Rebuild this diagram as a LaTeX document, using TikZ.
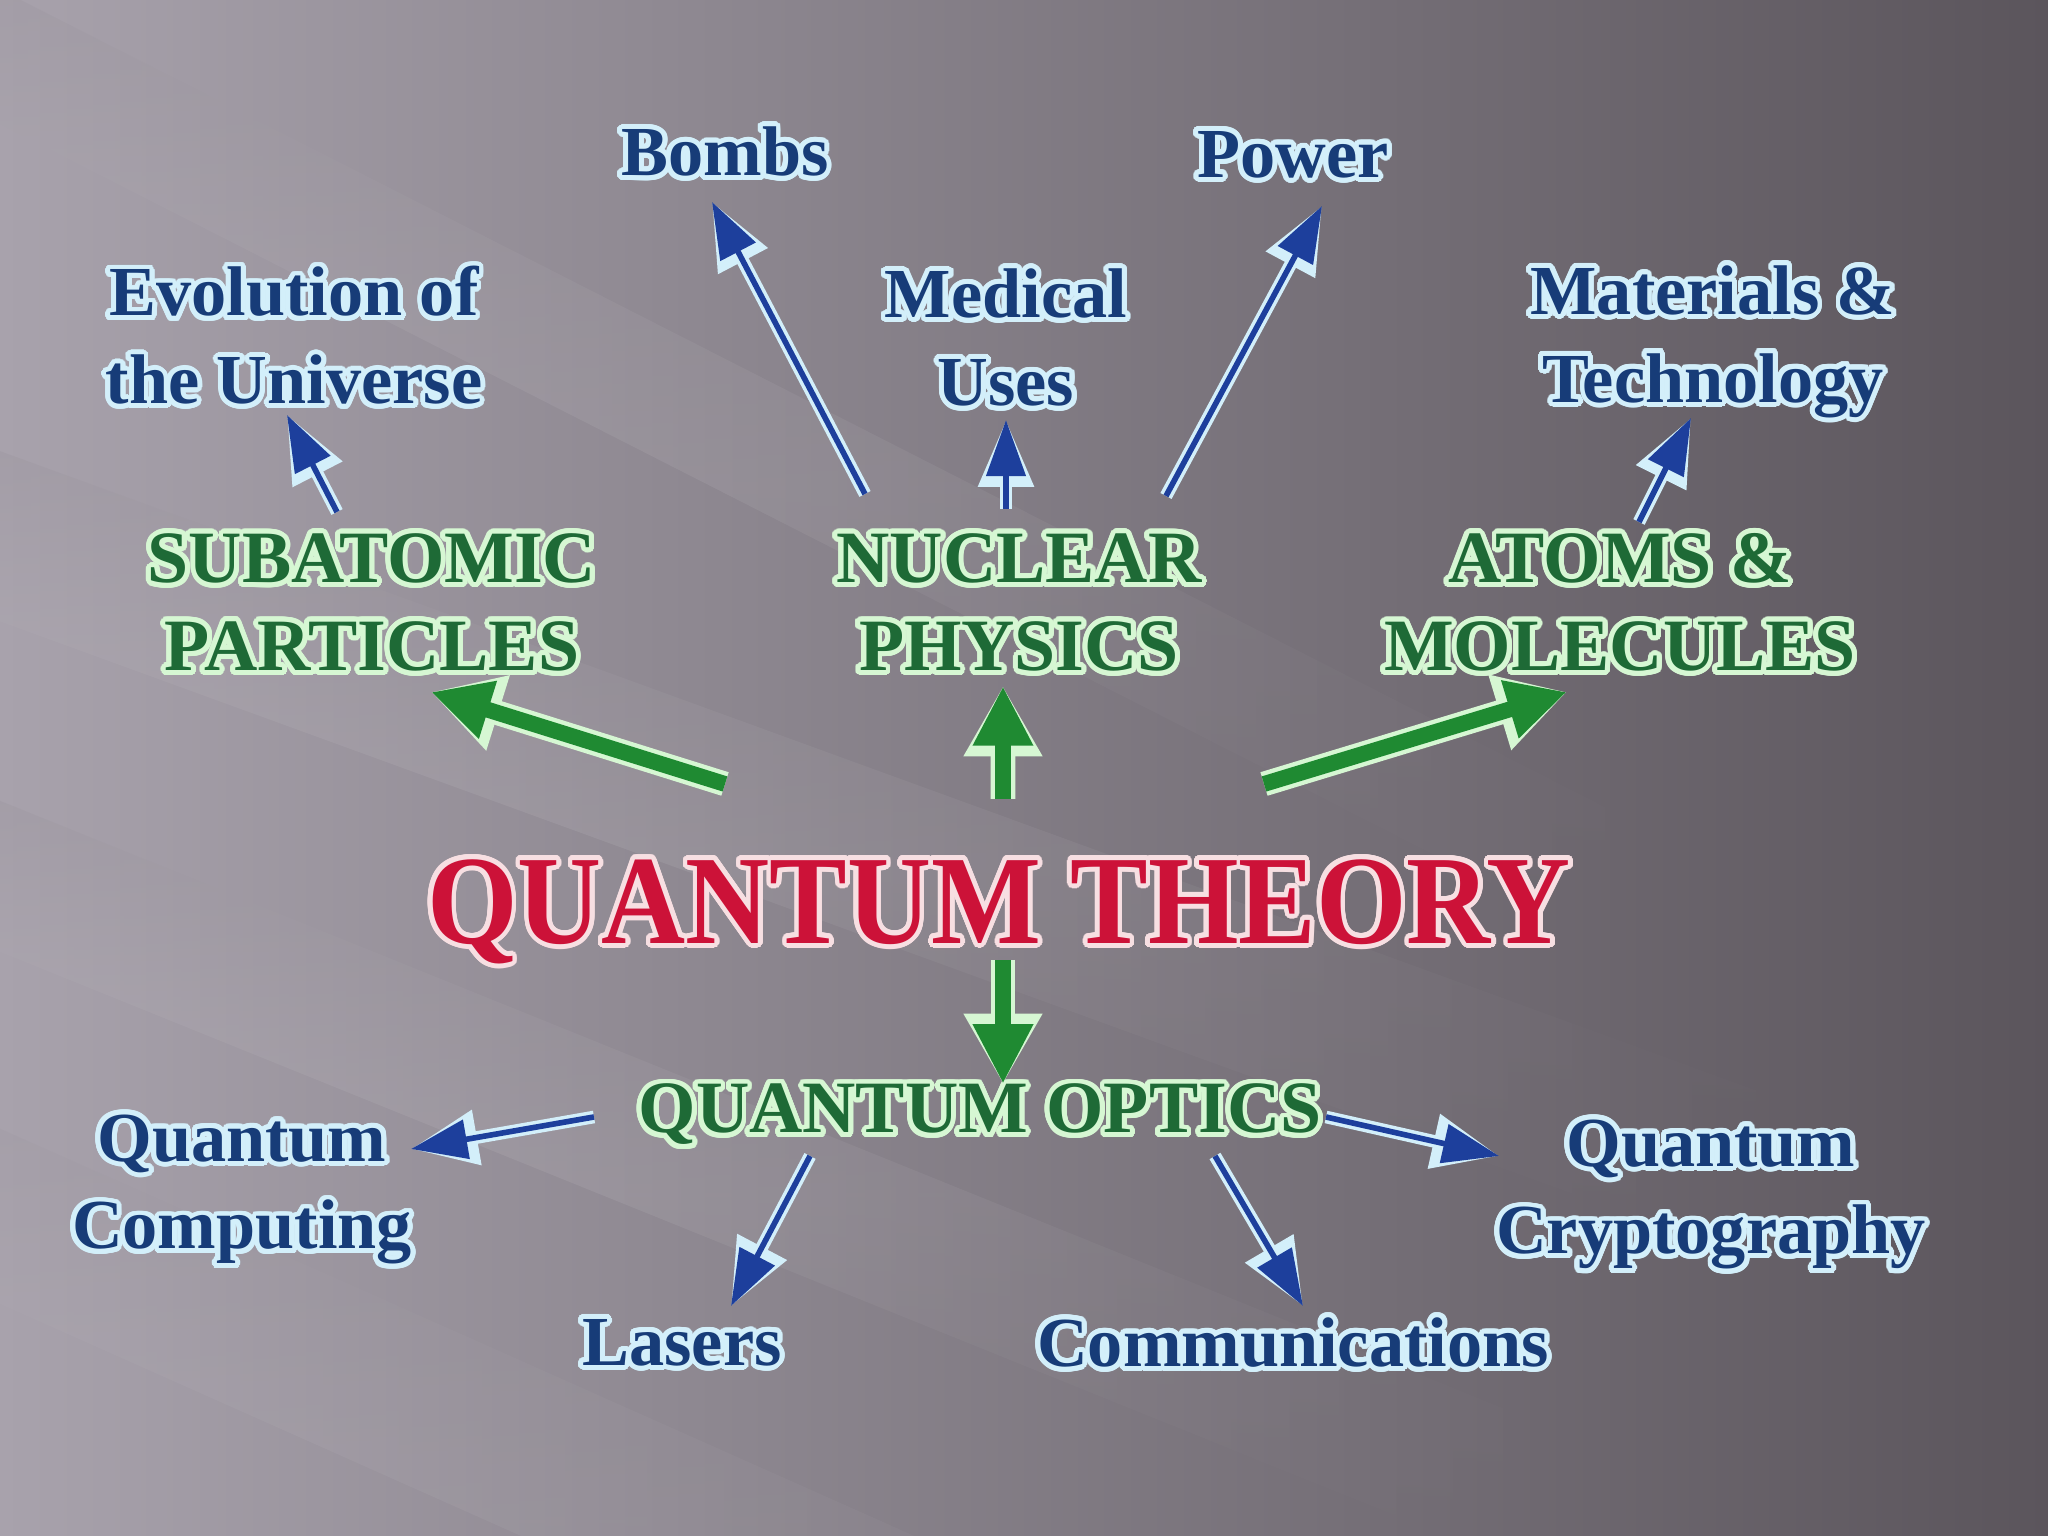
\documentclass[tikz,border=0pt]{standalone}
\usepackage{fontspec}
\setmainfont{Liberation Serif}
\usepackage[copies]{contour}
\usepackage{tikz}
\usepackage{xcolor}
\usetikzlibrary{arrows.meta, fadings}
\definecolor{bgleft}{HTML}{A8A2AC}
\definecolor{bgmid}{HTML}{7E7880}
\definecolor{bgright}{HTML}{5B555C}
\definecolor{bluefg}{HTML}{173C78}
\definecolor{bluehalo}{HTML}{D3EFFA}
\definecolor{greenfg}{HTML}{1E6A36}
\definecolor{greenhalo}{HTML}{D6F7D3}
\definecolor{redfg}{HTML}{CC1238}
\definecolor{redhalo}{HTML}{F7DFE2}
\definecolor{bluearr}{HTML}{1D3F9C}
\definecolor{greenarr}{HTML}{1F8A32}
\contourlength{1.4pt}
\contournumber{32}
\newcommand{\btxt}[1]{\textcolor{bluefg}{\contour{bluehalo}{#1}}}
\newcommand{\gtxt}[1]{\textcolor{greenfg}{\contour{greenhalo}{#1}}}
\newcommand{\rtxt}[1]{\textcolor{redfg}{\contour{redhalo}{#1}}}
\tikzstyle{app} = [font=\fontsize{20}{25}\selectfont\bfseries, align=center, inner sep=0pt]
\tikzstyle{field} = [font=\fontsize{21}{25}\selectfont\bfseries, align=center, inner sep=0pt]
\tikzstyle{maintitle} = [font=\fontsize{36}{40}\selectfont\bfseries, inner sep=0pt]
\tikzstyle{bluearrow} = [draw=bluearr, line width=1.6pt, -{Triangle[length=16pt,width=11pt]}, preaction={draw=bluehalo, line width=3.6pt, -{Triangle[length=19pt,width=15pt]}}]
\tikzstyle{greenarrow} = [draw=greenarr, line width=4.5pt, -{Triangle[length=17pt,width=16pt]}, preaction={draw=greenhalo, line width=7pt, -{Triangle[length=20pt,width=21pt]}}]
\tikzstyle{streak} = [top color=bgmid, bottom color=bgmid, middle color=white, opacity=0.13, path fading=east]

\begin{document}
\begin{tikzpicture}

            % Background
            \useasboundingbox (0,0) rectangle (20.48,15.36);
            \shade[left color=bgleft, middle color=bgmid, right color=bgright] (0,0) rectangle (20.48,15.36);
            \begin{scope}
                \clip (0,0) rectangle (20.48,15.36);
                \shade[streak, rotate around={-27:(0,14.8)}] (-1,14.2) rectangle (20,15.4);
                \shade[streak, rotate around={-20:(0,10.0)}] (-1,9.2) rectangle (20,10.8);
                \shade[streak, rotate around={-22:(0,6.6)}] (-1,5.9) rectangle (18,7.3);
                \shade[streak, opacity=0.08, rotate around={-24:(0,3.2)}] (-1,2.4) rectangle (16,4.0);
            \end{scope}

            % Nodes
            \node (qt) [maintitle] at (9.99,6.22) {\scalebox{0.92}[1]{\rtxt{QUANTUM THEORY}}};

            \node (sub) [field] at (3.72,9.31) {\gtxt{SUBATOMIC}\\\gtxt{PARTICLES}};
            \node (nuc) [field] at (10.19,9.31) {\gtxt{NUCLEAR}\\\gtxt{PHYSICS}};
            \node (atoms) [field] at (16.20,9.31) {\gtxt{ATOMS \&}\\\gtxt{MOLECULES}};
            \node (optics) [field] at (9.80,4.19) {\gtxt{QUANTUM OPTICS}};

            \node (evol) [app] at (2.94,11.98) {\btxt{Evolution of}\\\btxt{the Universe}};
            \node (bombs) [app] at (7.25,13.82) {\btxt{Bombs}};
            \node (medical) [app] at (10.06,11.96) {\btxt{Medical}\\\btxt{Uses}};
            \node (power) [app] at (12.93,13.79) {\btxt{Power}};
            \node (materials) [app] at (17.13,11.92) {\btxt{Materials \&}\\\btxt{Technology}};

            \node (computing) [app] at (2.42,3.44) {\btxt{Quantum}\\\btxt{Computing}};
            \node (lasers) [app] at (6.82,1.91) {\btxt{Lasers}};
            \node (comms) [app] at (12.93,1.91) {\btxt{Communications}};
            \node (crypto) [app] at (17.11,3.39) {\btxt{Quantum}\\\btxt{Cryptography}};

            % Arrows
            \draw [greenarrow] ([shift={(-2.74,1.30)}]qt.center) -- ([shift={(0.59,-0.87)}]sub.center);
            \draw [greenarrow] ([shift={(0.04,1.15)}]qt.center) -- ([shift={(-0.16,-0.81)}]nuc.center);
            \draw [greenarrow] ([shift={(2.65,1.30)}]qt.center) -- ([shift={(-0.53,-0.87)}]atoms.center);
            \draw [greenarrow] ([shift={(0.04,-0.46)}]qt.center) -- ([shift={(0.23,0.33)}]optics.center);

            \draw [bluearrow] ([shift={(-0.35,0.93)}]sub.center) -- ([shift={(-0.07,-0.77)}]evol.center);
            \draw [bluearrow] ([shift={(-1.54,1.11)}]nuc.center) -- ([shift={(-0.13,-0.48)}]bombs.center);
            \draw [bluearrow] ([shift={(-0.13,0.96)}]nuc.center) -- ([shift={(0,-0.80)}]medical.center);
            \draw [bluearrow] ([shift={(1.47,1.09)}]nuc.center) -- ([shift={(0.29,-0.49)}]power.center);
            \draw [bluearrow] ([shift={(0.19,0.83)}]atoms.center) -- ([shift={(-0.22,-0.74)}]materials.center);

            \draw [bluearrow] ([shift={(-3.86,0)}]optics.center) -- ([shift={(1.69,0.43)}]computing.center);
            \draw [bluearrow] ([shift={(-1.70,-0.39)}]optics.center) -- ([shift={(0.49,0.39)}]lasers.center);
            \draw [bluearrow] ([shift={(2.35,-0.39)}]optics.center) -- ([shift={(0.10,0.39)}]comms.center);
            \draw [bluearrow] ([shift={(3.46,0)}]optics.center) -- ([shift={(-2.12,0.41)}]crypto.center);

\end{tikzpicture}
\end{document}
